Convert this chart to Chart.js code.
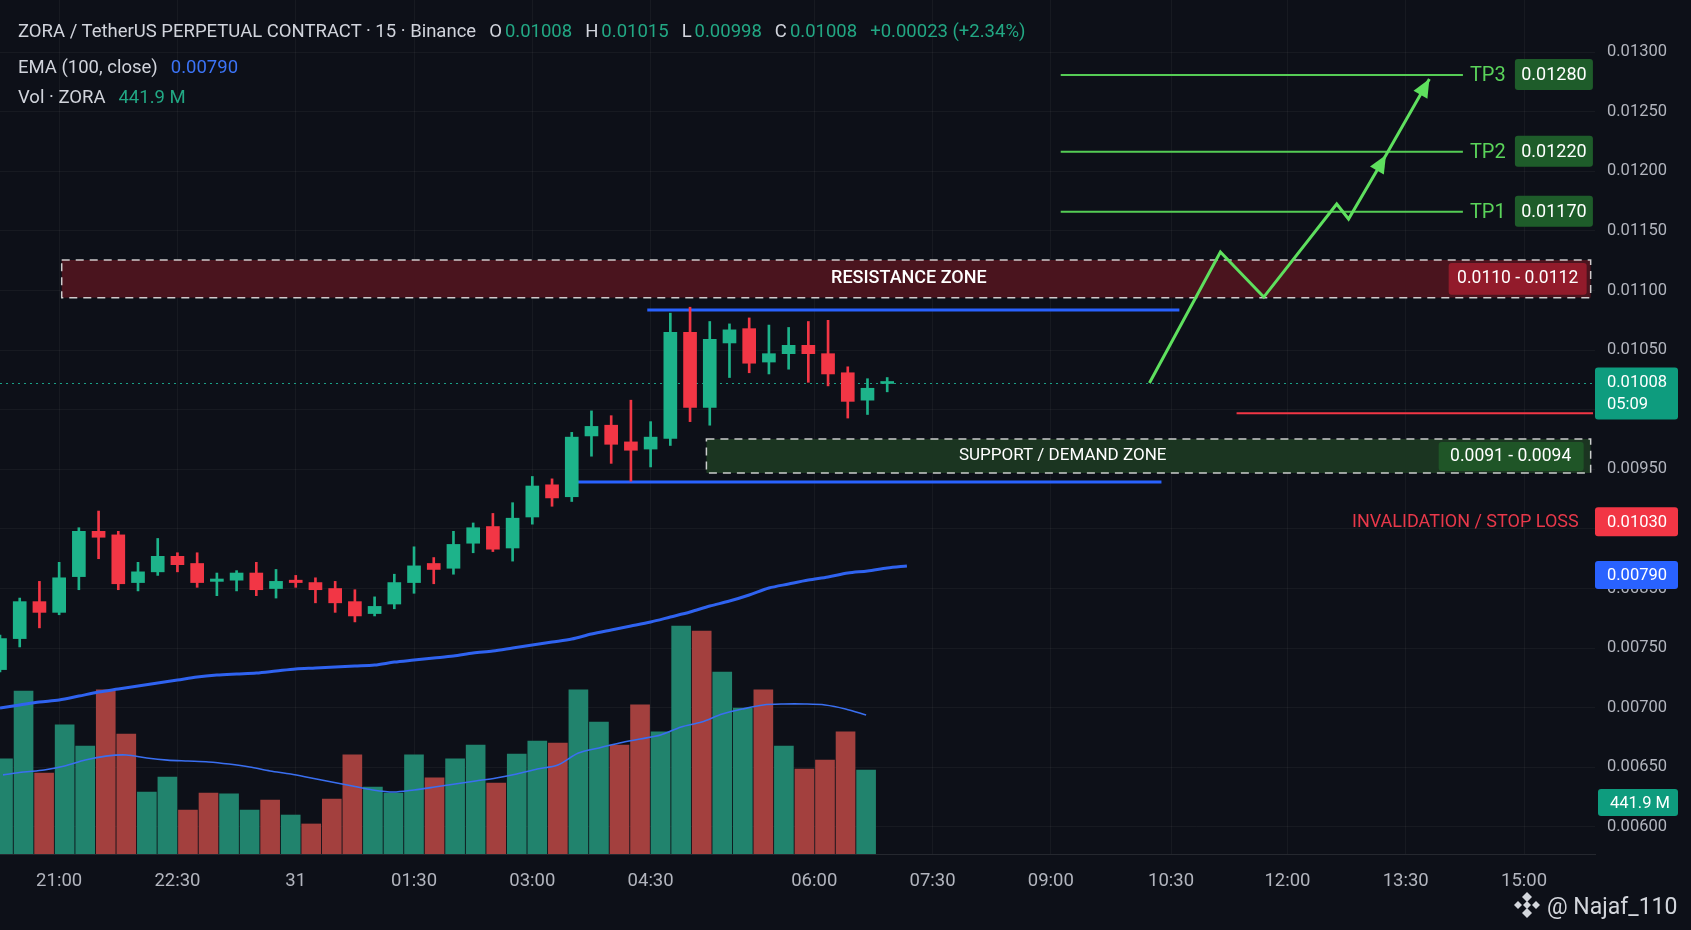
<!DOCTYPE html>
<html>
<head>
<meta charset="utf-8">
<title>ZORA / TetherUS 15m</title>
<script src="https://cdn.jsdelivr.net/npm/chart.js@4.4.1/dist/chart.umd.min.js"></script>
<style>
  html, body { margin: 0; padding: 0; background: #0d1018; }
  #wrap { position: relative; width: 1691px; height: 930px; overflow: hidden; }
  #chart { position: absolute; left: 0; top: 0; }
  .legend { position: absolute; left: 18px; font-family: Roboto, sans-serif; font-size: 18.5px;
            line-height: 20px; color: #d1d4dc; white-space: nowrap; }
  .g { color: #22a884; }
  .b { color: #3b73f5; }
  .sp { display: inline-block; width: 13px; }
  .sv { display: inline-block; width: 3px; }
  #mark { position: absolute; left: 1513px; top: 891px; font-family: Roboto, sans-serif;
          font-size: 23px; line-height: 28px; color: #d3d6dc; white-space: nowrap; }
  #mark svg { vertical-align: -5px; margin-right: 6px; }
</style>
</head>
<body>
<div id="wrap">
  <canvas id="chart" width="1691" height="930"></canvas>
  <div class="legend" style="top:21px">ZORA / TetherUS PERPETUAL CONTRACT · 15 · Binance<span class="sp"></span>O<span class="sv"></span><span class="g">0.01008</span><span class="sp"></span>H<span class="sv"></span><span class="g">0.01015</span><span class="sp"></span>L<span class="sv"></span><span class="g">0.00998</span><span class="sp"></span>C<span class="sv"></span><span class="g">0.01008</span><span class="sp"></span><span class="g">+0.00023 (+2.34%)</span></div>
  <div class="legend" style="top:57px">EMA (100, close)<span class="sp"></span><span class="b">0.00790</span></div>
  <div class="legend" style="top:87px">Vol · ZORA<span class="sp"></span><span class="g">441.9 M</span></div>
  <div id="mark"><svg width="28" height="28" viewBox="0 0 28 28"><g fill="#d3d6dc"><polygon points="14,1 19,6 14,11 9,6"/><polygon points="14,17 19,22 14,27 9,22"/><polygon points="5,10 9,14 5,18 1,14"/><polygon points="23,10 27,14 23,18 19,14"/><polygon points="14,10 18,14 14,18 10,14"/></g></svg>@ Najaf_110</div>
</div>
<script>
// 15-minute candles, slot 0 = 21:00
const firstSlot = -3;
const candleOpen  = [0.00782,0.00808,0.00839,0.00830,0.00860,0.00898,0.00895,0.00855,0.00864,0.00877,0.00871,0.00856,0.00857,0.00863,0.00850,0.00857,0.00855,0.00850,0.00839,0.00829,0.00837,0.00855,0.00871,0.00867,0.00888,0.00902,0.00884,0.00910,0.00937,0.00927,0.00978,0.00987,0.00973,0.00967,0.00976,0.01065,0.01002,0.01056,0.01068,0.01040,0.01047,0.01054,0.01047,0.01031,0.01008,0.01022];
const candleHigh  = [0.00811,0.00842,0.00856,0.00872,0.00901,0.00915,0.00898,0.00872,0.00892,0.00880,0.00880,0.00863,0.00865,0.00872,0.00866,0.00861,0.00859,0.00856,0.00849,0.00843,0.00862,0.00885,0.00876,0.00898,0.00905,0.00913,0.00922,0.00944,0.00942,0.00981,0.00999,0.00995,0.01008,0.00990,0.01081,0.01086,0.01074,0.01072,0.01077,0.01071,0.01069,0.01074,0.01075,0.01036,0.01026,0.01027];
const candleLow   = [0.00780,0.00801,0.00817,0.00828,0.00849,0.00875,0.00849,0.00848,0.00861,0.00864,0.00851,0.00844,0.00848,0.00844,0.00842,0.00851,0.00838,0.00830,0.00822,0.00827,0.00833,0.00846,0.00854,0.00862,0.00880,0.00881,0.00873,0.00904,0.00919,0.00923,0.00961,0.00955,0.00940,0.00952,0.00970,0.00990,0.00987,0.01027,0.01031,0.01030,0.01034,0.01023,0.01020,0.00993,0.00996,0.01015];
const candleClose = [0.00808,0.00839,0.00830,0.00859,0.00898,0.00893,0.00854,0.00864,0.00877,0.00870,0.00855,0.00858,0.00863,0.00849,0.00856,0.00855,0.00849,0.00838,0.00827,0.00835,0.00855,0.00869,0.00866,0.00887,0.00901,0.00883,0.00909,0.00936,0.00926,0.00977,0.00986,0.00971,0.00966,0.00977,0.01065,0.01002,0.01059,0.01067,0.01039,0.01047,0.01054,0.01047,0.01030,0.01007,0.01018,0.01023];

// EMA 100, slots -3 .. 43
const emaValues = [0.007498,0.007523,0.007548,0.007565,0.007598,0.007632,0.007657,0.007682,0.007707,0.007732,0.007758,0.007774,0.007783,0.007791,0.007808,0.007825,0.007833,0.007842,0.007850,0.007858,0.007883,0.007900,0.007917,0.007934,0.007959,0.007976,0.008001,0.008026,0.008051,0.008076,0.008118,0.008152,0.008185,0.008219,0.008261,0.008303,0.008353,0.008395,0.008446,0.008504,0.008538,0.008571,0.008597,0.008630,0.008647,0.008672,0.008689];

// volume (M) and its moving average, own bar index
const volumeValues = [500,857,426,679,568,863,631,326,405,231,321,316,231,284,205,158,289,521,352,321,521,400,500,573,373,526,594,584,863,694,573,784,642,1199,1173,957,768,863,568,447,494,642,442];
const volumeUp = [1,1,0,1,1,0,0,1,1,0,0,1,1,0,1,0,0,0,1,1,1,0,1,1,0,1,1,0,1,1,0,0,1,1,0,1,1,0,1,0,0,0,1];
const volumeMa = [416,431,442,463,494,515,521,505,494,489,484,473,458,437,421,400,379,358,337,326,337,352,368,384,400,421,447,468,531,558,584,605,626,668,694,736,763,784,789,789,784,763,731];

// axes
const yTickValues = [0.0130,0.0125,0.0120,0.0115,0.0110,0.0105,0.0100,0.0095,0.0090,0.0085,0.0080,0.0075,0.0070,0.0065];
const yTickLabels = ['0.01300','0.01250','0.01200','0.01150','0.01100','0.01050','0.01000','0.00950','0.00900','0.00850','0.00750','0.00700','0.00650','0.00600'];
const xTickSlots  = [0,6,12,18,24,30,38.3,44.3,50.3,56.4,62.3,68.3,74.3];
const xTickLabels = ['21:00','22:30','31','01:30','03:00','04:30','06:00','07:30','09:00','10:30','12:00','13:30','15:00'];

// drawing on the chart: [fromSlot, toSlot, low, high]
const resistanceZone = [0.13, 77.68, 0.010940, 0.011256];
const supportZone    = [32.83, 77.68, 0.009469, 0.009754];
// [fromSlot, toSlot, price]
const blueLevels = [[29.83, 56.82, 0.010836], [25.82, 55.91, 0.009393]];
const stopLevel  = [59.72, 77.8, 0.009970];
const tpRange  = [50.8, 71.2];
const tpPrices = [0.012808, 0.012164, 0.011661];
const tpNames  = ['TP3', 'TP2', 'TP1'];
const tpTags   = ['0.01280', '0.01220', '0.01170'];
const projSlots  = [55.3, 58.9, 61.1, 64.8, 65.4, 67.3, 69.5];
const projPrices = [0.010224, 0.011323, 0.010945, 0.011726, 0.011600, 0.012137, 0.012774];
const projArrows = [5, 6];
const lastPrice = 0.010228;
const lastTag = ['0.01008', '05:09'];
const stopTag = [0.009061, '0.01030'];
const emaTag = [0.008613, '0.00790'];
const volTag = [271, '441.9 M'];

const UP = '#1db38a', DOWN = '#f23645';
const slotOf = i => firstSlot + i;
const candleColors = candleOpen.map((o, i) => candleClose[i] >= o ? UP : DOWN);

function box(ctx, x, y, w, h, fill) {
    ctx.fillStyle = fill;
    ctx.beginPath();
    if (ctx.roundRect) ctx.roundRect(x, y, w, h, 3); else ctx.rect(x, y, w, h);
    ctx.fill();
}

function arrowHead(ctx, x0, y0, x1, y1, color) {
    const a = Math.atan2(y1 - y0, x1 - x0), len = 18, half = 8;
    ctx.fillStyle = color;
    ctx.beginPath();
    ctx.moveTo(x1, y1);
    ctx.lineTo(x1 - len * Math.cos(a) + half * Math.sin(a), y1 - len * Math.sin(a) - half * Math.cos(a));
    ctx.lineTo(x1 - len * Math.cos(a) - half * Math.sin(a), y1 - len * Math.sin(a) + half * Math.cos(a));
    ctx.closePath();
    ctx.fill();
}

const overlay = {
    id: 'overlay',
    beforeDraw(chart) {
        const ctx = chart.ctx;
        ctx.save();
        ctx.fillStyle = '#0d1018';
        ctx.fillRect(0, 0, chart.width, chart.height);
        ctx.restore();
    },
    beforeDatasetsDraw(chart) {
        const { ctx, chartArea: area, scales: { x, y } } = chart;
        ctx.save();
        [[resistanceZone, '#4a141e'], [supportZone, '#1b3521']].forEach(([z, fill]) => {
            const x1 = x.getPixelForValue(z[0]), x2 = x.getPixelForValue(z[1]);
            const y1 = y.getPixelForValue(z[3]), y2 = y.getPixelForValue(z[2]);
            ctx.fillStyle = fill;
            ctx.fillRect(x1, y1, x2 - x1, y2 - y1);
            ctx.setLineDash([8, 6]);
            ctx.strokeStyle = 'rgba(235,235,235,0.85)';
            ctx.lineWidth = 1.5;
            ctx.strokeRect(x1, y1, x2 - x1, y2 - y1);
        });
        ctx.setLineDash([2, 4]);
        ctx.strokeStyle = '#1a9f86';
        ctx.lineWidth = 1;
        const yl = Math.round(y.getPixelForValue(lastPrice)) + 0.5;
        ctx.beginPath(); ctx.moveTo(area.left, yl); ctx.lineTo(area.right, yl); ctx.stroke();
        ctx.setLineDash([]);

        ctx.lineWidth = 3;
        ctx.strokeStyle = '#2962ff';
        blueLevels.forEach(l => {
            const yy = y.getPixelForValue(l[2]);
            ctx.beginPath(); ctx.moveTo(x.getPixelForValue(l[0]), yy); ctx.lineTo(x.getPixelForValue(l[1]), yy); ctx.stroke();
        });
        ctx.lineWidth = 2;
        ctx.strokeStyle = '#f23645';
        const ys = y.getPixelForValue(stopLevel[2]);
        ctx.beginPath(); ctx.moveTo(x.getPixelForValue(stopLevel[0]), ys); ctx.lineTo(x.getPixelForValue(stopLevel[1]), ys); ctx.stroke();

        ctx.strokeStyle = '#55cc55';
        tpPrices.forEach(p => {
            const yy = y.getPixelForValue(p);
            ctx.beginPath(); ctx.moveTo(x.getPixelForValue(tpRange[0]), yy); ctx.lineTo(x.getPixelForValue(tpRange[1]), yy); ctx.stroke();
        });
        ctx.restore();
    },
    afterDatasetsDraw(chart) {
        const { ctx, scales: { x, y } } = chart;
        ctx.save();
        const pts = chart.getDatasetMeta(chart.data.datasets.findIndex(d => d.label === 'projection')).data;
        projArrows.forEach(i => arrowHead(ctx, pts[i - 1].x, pts[i - 1].y, pts[i].x, pts[i].y, '#5ee05e'));

        ctx.textBaseline = 'middle';
        ctx.textAlign = 'center';
        ctx.fillStyle = '#ffffff';
        ctx.font = '500 18px Roboto';
        ctx.fillText('RESISTANCE ZONE', x.getPixelForValue(43.1), y.getPixelForValue((resistanceZone[2] + resistanceZone[3]) / 2));
        ctx.font = '17px Roboto';
        ctx.fillText('SUPPORT / DEMAND ZONE', x.getPixelForValue(50.9), y.getPixelForValue((supportZone[2] + supportZone[3]) / 2));

        // zone range tags
        const xr = x.getPixelForValue(resistanceZone[1]);
        let y1 = y.getPixelForValue(resistanceZone[3]), y2 = y.getPixelForValue(resistanceZone[2]);
        box(ctx, xr - 142, y1 + 3, 138, y2 - y1 - 6, '#921b2b');
        ctx.fillStyle = '#ffffff';
        ctx.font = '17.5px Roboto';
        ctx.fillText('0.0110 - 0.0112', xr - 73, (y1 + y2) / 2);
        y1 = y.getPixelForValue(supportZone[3]); y2 = y.getPixelForValue(supportZone[2]);
        box(ctx, xr - 152, y1 + 3, 145, y2 - y1 - 5, '#1f5527');
        ctx.fillStyle = '#ffffff';
        ctx.fillText('0.0091 - 0.0094', xr - 80, (y1 + y2) / 2 + 1);

        // take profit tags
        const xe = x.getPixelForValue(tpRange[1]);
        tpPrices.forEach((p, i) => {
            const yy = y.getPixelForValue(p);
            ctx.textAlign = 'left';
            ctx.fillStyle = '#5ad35a';
            ctx.font = '20px Roboto';
            ctx.fillText(tpNames[i], xe + 7, yy + 1);
            box(ctx, xe + 52, yy - 16, 78, 31, '#1e5c2a');
            ctx.textAlign = 'center';
            ctx.fillStyle = '#ffffff';
            ctx.font = '18px Roboto';
            ctx.fillText(tpTags[i], xe + 91, yy + 1);
        });

        ctx.textAlign = 'right';
        ctx.fillStyle = '#e8384a';
        ctx.font = '18px Roboto';
        ctx.fillText('INVALIDATION / STOP LOSS', x.getPixelForValue(77.07), y.getPixelForValue(stopTag[0]) + 1);
        ctx.restore();
    },
    afterDraw(chart) {
        const { ctx, chartArea: area, scales: { y, yv } } = chart;
        const bx = area.right, bw = 83, tx = area.right + 12;
        ctx.save();
        ctx.textAlign = 'left';
        ctx.textBaseline = 'middle';
        ctx.font = '16.5px Roboto';
        const yl = y.getPixelForValue(lastPrice);
        box(ctx, bx, yl - 15, bw, 52, '#0e9c7e');
        ctx.fillStyle = '#ffffff';
        ctx.fillText(lastTag[0], tx, yl);
        ctx.fillText(lastTag[1], tx, yl + 22);
        [[y.getPixelForValue(stopTag[0]), stopTag[1], '#f23645', 29],
         [y.getPixelForValue(emaTag[0]), emaTag[1], '#2962ff', 28],
         [yv.getPixelForValue(volTag[0]), volTag[1], '#0e9c7e', 27]].forEach(([yy, t, c, h], i) => {
            box(ctx, bx + (i === 2 ? 3 : 0), yy - h / 2, bw - (i === 2 ? 3 : 0), h, c);
            ctx.fillStyle = '#ffffff';
            ctx.fillText(t, tx + (i === 2 ? 3 : 0), yy + 1);
        });
        ctx.restore();
    }
};

// keep the plot area flush with the canvas edges
function noPadding(s) {
    s.paddingTop = 0; s.paddingBottom = 0; s.paddingLeft = 0; s.paddingRight = 0;
}

Chart.defaults.font.family = 'Roboto';

new Chart(document.getElementById('chart').getContext('2d'), {
    type: 'bar',
    data: {
        datasets: [
            {
                label: 'volume',
                data: volumeValues.map((v, i) => ({ x: i, y: v })),
                backgroundColor: volumeUp.map(u => u ? '#21836d' : '#a3403e'),
                xAxisID: 'xv', yAxisID: 'yv',
                barThickness: 19, grouped: false, order: 10
            },
            {
                type: 'line', label: 'volume ma',
                data: volumeMa.map((v, i) => ({ x: i, y: v })),
                borderColor: '#3a6ff0', borderWidth: 1.6, pointRadius: 0, tension: 0.3,
                xAxisID: 'xv', yAxisID: 'yv', order: 9
            },
            {
                type: 'line', label: 'EMA 100',
                data: emaValues.map((v, i) => ({ x: slotOf(i), y: v })),
                borderColor: '#2f63f0', borderWidth: 3, pointRadius: 0, tension: 0.3,
                xAxisID: 'x', yAxisID: 'y', order: 8
            },
            {
                label: 'wicks',
                data: candleLow.map((l, i) => ({ x: slotOf(i), y: [l, candleHigh[i]] })),
                backgroundColor: candleColors,
                barThickness: 2, grouped: false, order: 5,
                xAxisID: 'x', yAxisID: 'y'
            },
            {
                label: 'bodies',
                data: candleOpen.map((o, i) => ({ x: slotOf(i), y: [o, candleClose[i]] })),
                backgroundColor: candleColors,
                barThickness: 13, minBarLength: 2, grouped: false, order: 4,
                xAxisID: 'x', yAxisID: 'y'
            },
            {
                type: 'line', label: 'projection',
                data: projSlots.map((s, i) => ({ x: s, y: projPrices[i] })),
                borderColor: '#5ee05e', borderWidth: 3, pointRadius: 0, tension: 0,
                xAxisID: 'x', yAxisID: 'y', order: 1
            }
        ]
    },
    options: {
        responsive: false,
        animation: false,
        events: [],
        devicePixelRatio: 1,
        layout: { padding: 0 },
        plugins: { legend: { display: false }, tooltip: { enabled: false } },
        scales: {
            x: {
                type: 'linear', min: -3.0, max: 77.9, offset: false,
                afterBuildTicks: s => { s.ticks = xTickSlots.map(v => ({ value: v })); },
                afterFit: s => { s.height = 76; noPadding(s); },
                grid: { color: 'rgba(255,255,255,0.045)', drawTicks: false, offset: false },
                border: { color: 'rgba(255,255,255,0.10)' },
                ticks: { callback: (v, i) => xTickLabels[i], color: '#b2b5be', font: { size: 18.5 },
                         padding: 16, maxRotation: 0, autoSkip: false }
            },
            xv: {
                type: 'linear', min: -0.146, max: 77.47, offset: false, display: false
            },
            y: {
                type: 'linear', position: 'right', min: 0.006273, max: 0.013437,
                afterBuildTicks: s => { s.ticks = yTickValues.map(v => ({ value: v })); },
                afterFit: s => { s.width = 96; noPadding(s); },
                grid: { color: 'rgba(255,255,255,0.045)', drawTicks: false },
                border: { display: false },
                ticks: { callback: (v, i) => yTickLabels[i], color: '#b2b5be', font: { size: 16.5 },
                         padding: 12, autoSkip: false }
            },
            yv: {
                type: 'linear', min: 0, max: 4492, display: false
            }
        }
    },
    plugins: [overlay]
});
</script>
</body>
</html>
